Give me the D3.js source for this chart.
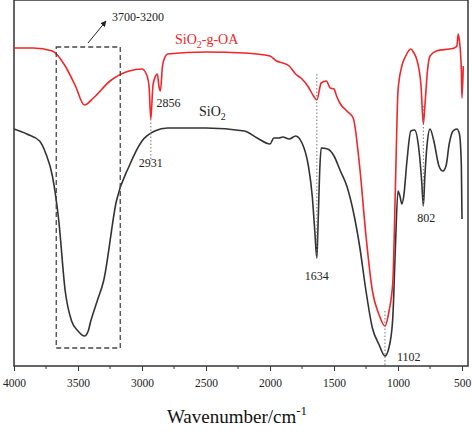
<!DOCTYPE html>
<html><head><meta charset="utf-8">
<script src="https://cdn.jsdelivr.net/npm/d3@7"></script>
<style>body{margin:0;background:#fff}text{font-family:"Liberation Serif","Times New Roman",serif}</style>
</head><body>
<svg id="c" width="474" height="432"></svg>
<script>
// transmittance (a.u.)
const oaWave = [4000,3850,3700,3600,3520,3450,3380,3250,3100,3000,2960,2945,2931,2915,2900,2880,2868,2856,2840,2820,2800,2500,2200,2000,1950,1900,1850,1800,1750,1700,1660,1634,1600,1560,1530,1500,1480,1450,1400,1350,1300,1250,1200,1150,1102,1070,1040,1020,1000,970,940,900,880,850,820,802,790,770,750,700,600,560,540,530,520,510,505,500,490];
const oaT    = [318,318,315,300,280,261,268,285,295,297,290,280,247,280,288,292,280,275,300,309,312,314,313,310,305,303,300,292,287,279,270,266,283,285,278,277,270,262,255,248,200,130,75,52,40,55,85,180,275,300,310,317,314,305,280,242,260,295,310,315,317,318,320,332,325,310,295,268,300];
const siWave = [4000,3900,3800,3750,3700,3650,3600,3550,3500,3450,3420,3400,3350,3300,3200,3100,3000,2900,2800,2500,2200,2100,2000,1970,1930,1900,1850,1800,1750,1700,1670,1650,1634,1625,1610,1600,1550,1500,1450,1400,1350,1300,1250,1200,1150,1102,1060,1040,1020,1000,985,970,955,930,900,870,840,815,802,790,770,750,720,680,650,625,600,570,540,520,505,500];
const siT    = [237,232,225,212,190,145,75,45,35,30,35,45,65,85,165,200,225,235,238,238,235,228,222,228,228,229,227,230,223,200,170,135,108,140,200,218,217,210,195,180,155,120,75,38,22,10,25,50,120,175,170,162,170,205,235,236,220,185,160,190,225,237,225,200,195,200,222,235,237,232,200,147];
const ticks = [4000,3500,3000,2500,2000,1500,1000,500];
const marks = [
  {w:2931, y1:247, y2:207, label:"2931", lx:0, ly:167, anchor:"middle"},
  {w:1634, y1:292, y2:108, label:"1634", lx:0, ly:280, anchor:"middle"},
  {w:1102, y1:55, y2:0, label:"1102", lx:12, ly:361, anchor:"start"},
  {w:802, y1:260, y2:160, label:"802", lx:3, ly:222, anchor:"middle"}
];

const svg = d3.select("#c");
const L = 14, R = 468, T = 0, B = 366;
const x = d3.scaleLinear().domain([4000, 500]).range([L, 462]);
const y = d3.scaleLinear().domain([0, 366]).range([B, T]);

// frame
svg.append("rect").attr("x", L).attr("y", T).attr("width", R - L).attr("height", B - T)
  .attr("fill", "none").attr("stroke", "#333").attr("stroke-width", 1.5);

// axis
const ax = svg.append("g").attr("transform", `translate(0,${B})`)
  .call(d3.axisBottom(x).tickValues(ticks).tickSize(5).tickFormat(d3.format("d")));
ax.select(".domain").remove();
ax.selectAll("text").attr("font-size", 11.5).attr("fill", "#222").attr("dy", "1.1em")
  .attr("font-family", "Liberation Serif");
ax.selectAll("line").attr("stroke", "#333");
svg.append("g").attr("transform", `translate(0,${B})`)
  .selectAll("line").data(d3.range(3750, 500, -500)).join("line")
  .attr("x1", d => x(d)).attr("x2", d => x(d)).attr("y1", 0).attr("y2", 3).attr("stroke", "#333");

svg.append("text").attr("x", 237).attr("y", 423).attr("text-anchor", "middle").attr("font-size", 19)
  .attr("fill", "#111").html('Wavenumber/cm<tspan dy="-8" font-size="13">-1</tspan>');

// curves
const line = d3.line().x(d => x(d[0])).y(d => y(d[1])).curve(d3.curveMonotoneX);
svg.append("clipPath").attr("id", "cp").append("rect")
  .attr("x", L).attr("y", T).attr("width", R - L).attr("height", B - T);
svg.append("path").datum(d3.zip(siWave, siT)).attr("d", line)
  .attr("fill", "none").attr("stroke", "#333").attr("stroke-width", 1.6).attr("clip-path", "url(#cp)");
svg.append("path").datum(d3.zip(oaWave, oaT)).attr("d", line)
  .attr("fill", "none").attr("stroke", "#f0262a").attr("stroke-width", 1.6).attr("clip-path", "url(#cp)");

// peak markers
marks.forEach(m => {
  svg.append("line").attr("x1", x(m.w)).attr("x2", x(m.w)).attr("y1", y(m.y1)).attr("y2", y(m.y2))
    .attr("stroke", "#777").attr("stroke-width", 1).attr("stroke-dasharray", "1.5,2");
  svg.append("text").attr("x", x(m.w) + m.lx).attr("y", m.ly).attr("text-anchor", m.anchor)
    .attr("font-size", 12).attr("fill", "#222").text(m.label);
});
svg.append("text").attr("x", x(2856) - 4).attr("y", 107).attr("font-size", 12).attr("fill", "#222").text("2856");

// dashed box + arrow
svg.append("rect").attr("x", x(3670)).attr("y", 47).attr("width", x(3170) - x(3670)).attr("height", 301)
  .attr("fill", "none").attr("stroke", "#444").attr("stroke-width", 1.3).attr("stroke-dasharray", "5,3");
svg.append("defs").append("marker").attr("id", "ah").attr("viewBox", "0 0 10 10").attr("refX", 9).attr("refY", 5)
  .attr("markerWidth", 6).attr("markerHeight", 6).attr("orient", "auto")
  .append("path").attr("d", "M0,0L10,5L0,10z").attr("fill", "#222");
svg.append("line").attr("x1", 88).attr("y1", 43).attr("x2", 106).attr("y2", 21)
  .attr("stroke", "#222").attr("stroke-width", 1).attr("marker-end", "url(#ah)");
svg.append("text").attr("x", 112).attr("y", 21).attr("font-size", 12).attr("fill", "#222").text("3700-3200");

// legend labels
svg.append("text").attr("x", 175).attr("y", 44).attr("font-size", 14).attr("fill", "#f0262a")
  .html('SiO<tspan dy="4" font-size="10">2</tspan><tspan dy="-4">-g-OA</tspan>');
svg.append("text").attr("x", 199).attr("y", 116).attr("font-size", 14).attr("fill", "#222")
  .html('SiO<tspan dy="4" font-size="10">2</tspan>');
</script>
</body></html>
